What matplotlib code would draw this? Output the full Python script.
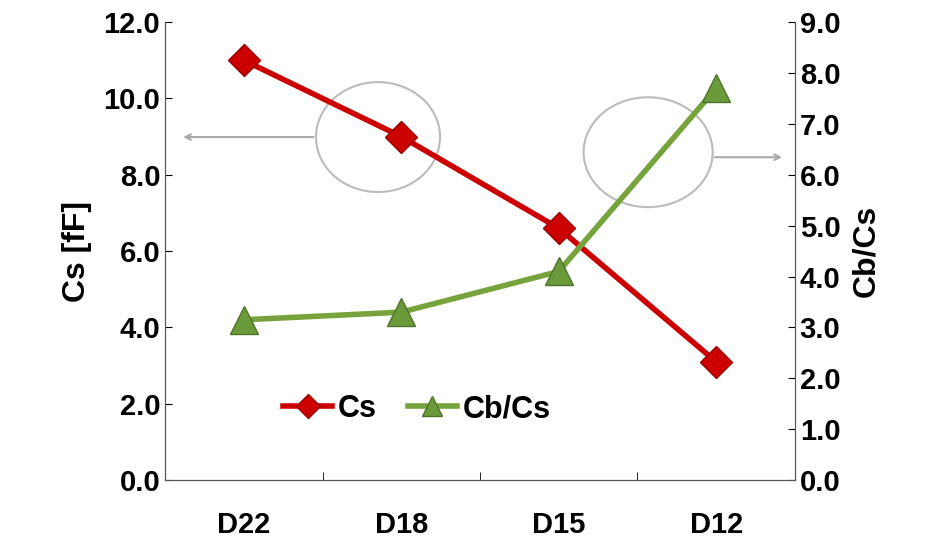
import matplotlib
matplotlib.use("Agg")
import matplotlib.pyplot as plt
from matplotlib.patches import Ellipse
from matplotlib.ticker import FormatStrFormatter, FixedLocator

categories = ["D22", "D18", "D15", "D12"]
cs = [11.0, 9.0, 6.6, 3.1]
cb_cs = [3.15, 3.3, 4.1, 7.7]

plt.rcParams['font.family'] = ['Liberation Sans', 'DejaVu Sans']
plt.rcParams['font.weight'] = 'bold'
fig = plt.figure(figsize=(9.44, 5.4), dpi=100)
ax = fig.add_axes([0.175, 0.111, 0.667, 0.848])
ax2 = ax.twinx()
x = list(range(1, len(categories) + 1))
l1, = ax.plot(x, cs, color='#cc0000', lw=4, marker='D', ms=16, mfc='#cc0000', mec='#990000', label='Cs', zorder=3)
l2, = ax2.plot(x, cb_cs, color='#77a33d', lw=4, marker='^', ms=20, mfc='#6b9a3a', mec='#4f7328', label='Cb/Cs', zorder=3)
ax.set_xlim(0.5, 4.5)
ax.set_ylim(0, 12)
ax2.set_ylim(0, 9)
ax.set_yticks([0, 2, 4, 6, 8, 10, 12])
ax2.set_yticks(range(10))
ax.yaxis.set_major_formatter(FormatStrFormatter('%.1f'))
ax2.yaxis.set_major_formatter(FormatStrFormatter('%.1f'))
ax.set_xticks(x)
ax.set_xticklabels(categories)
ax.tick_params(axis='x', length=0, labelsize=21, pad=22)
ax.xaxis.set_minor_locator(FixedLocator([1.5, 2.5, 3.5]))
ax.tick_params(axis='x', which='minor', length=6, direction='in')
ax.tick_params(axis='y', labelsize=21, direction='in', length=5)
ax2.tick_params(axis='y', labelsize=21, direction='in', length=5)
ax.set_ylabel('Cs [fF]', fontsize=23, fontweight='bold', labelpad=8)
ax2.set_ylabel('Cb/Cs', fontsize=23, fontweight='bold', labelpad=8)
for a in (ax, ax2):
    for s in a.spines.values():
        s.set_color('#555555')
ax2.spines['top'].set_visible(False)
ax.spines['top'].set_visible(False)

for (cx, cy, w, h) in [(0.338, 0.749, 0.197, 0.24), (0.767, 0.716, 0.205, 0.24)]:
    ax.add_patch(Ellipse((cx, cy), w, h, transform=ax.transAxes, fill=False, ec='#bbbbbb', lw=1.5, zorder=2))
ax.annotate('', xy=(0.024, 0.749), xytext=(0.24, 0.749), xycoords='axes fraction',
            arrowprops=dict(arrowstyle='->', color='#aaaaaa', lw=1.5))
ax.annotate('', xy=(0.984, 0.705), xytext=(0.868, 0.705), xycoords='axes fraction',
            arrowprops=dict(arrowstyle='->', color='#aaaaaa', lw=1.5))

ax2.legend([l1, l2], ['Cs', 'Cb/Cs'], loc='center', bbox_to_anchor=(0.4, 0.155), ncol=2,
           frameon=False, prop={'size': 22, 'weight': 'bold'}, handlelength=1.6, handletextpad=0.2,
           columnspacing=1.0, markerscale=0.75)
fig.savefig('out.png', dpi=100)
